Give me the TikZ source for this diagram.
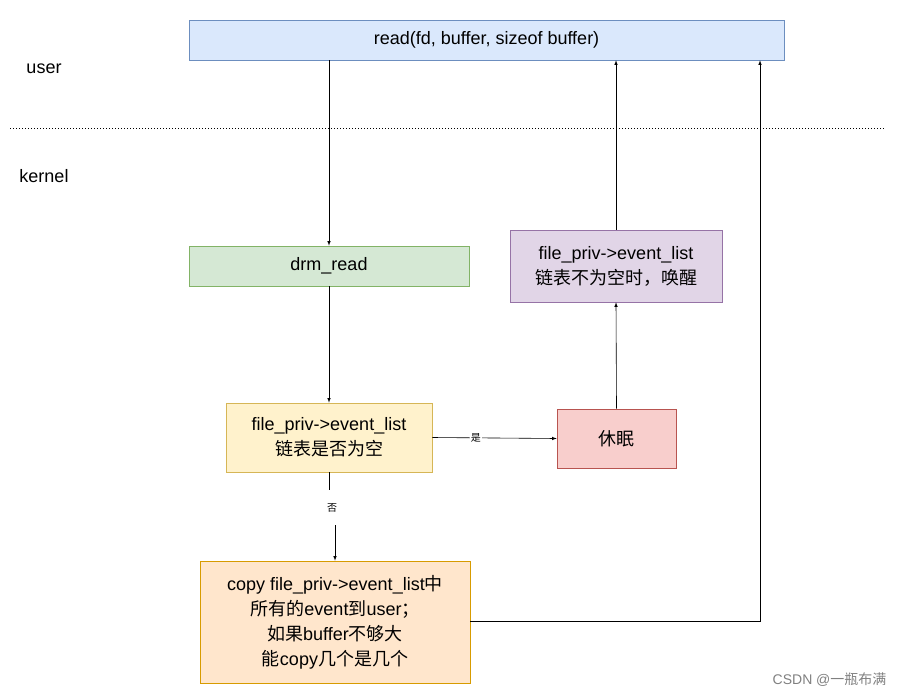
\documentclass[tikz,border=0pt]{standalone}
\usepackage{fontspec}
\setmainfont{Liberation Sans}
\newfontfamily\cjk{Noto Sans CJK SC}
\begin{document}
\begin{tikzpicture}[x=1pt,y=-1pt,
  box/.style={draw=#1,line width=0.6pt,inner sep=0pt,align=center,font=\fontsize{18}{25}\selectfont},
  lab/.style={font=\fontsize{18}{22}\selectfont},
  arr/.style={-latex,line width=0.6pt}]
\useasboundingbox (0,0) rectangle (904,698);
\definecolor{bF}{HTML}{DAE8FC}\definecolor{bD}{HTML}{6C8EBF}
\definecolor{gF}{HTML}{D5E8D4}\definecolor{gD}{HTML}{82B366}
\definecolor{pF}{HTML}{E1D5E7}\definecolor{pD}{HTML}{9673A6}
\definecolor{yF}{HTML}{FFF2CC}\definecolor{yD}{HTML}{D6B656}
\definecolor{rF}{HTML}{F8CECC}\definecolor{rD}{HTML}{B85450}
\definecolor{oF}{HTML}{FFE6CC}\definecolor{oD}{HTML}{D79B00}
\node[box=bD,fill=bF,minimum width=595,minimum height=40] (read) at (486.5,40) {read(fd, buffer, sizeof buffer)};
\node[lab] (user) at (44,69) {user};
\node[lab] (kernel) at (44,176) {kernel};
\draw[dotted,line width=1pt] (10,128) -- (885,128);
\node[box=gD,fill=gF,minimum width=280,minimum height=40] (drm) at (329,266) {drm\_read};
\node[box=pD,fill=pF,minimum width=212,minimum height=72] (wake) at (616,266) {file\_priv->event\_list\\{\cjk 链表不为空时，唤醒}};
\node[box=yD,fill=yF,minimum width=206,minimum height=69] (chk) at (329,437.5) {file\_priv->event\_list\\{\cjk 链表是否为空}};
\node[box=rD,fill=rF,minimum width=119,minimum height=59] (sleep) at (616.5,438.5) {\cjk 休眠};
\node[box=oD,fill=oF,minimum width=270,minimum height=122] (copy) at (335,622) {copy file\_priv->event\_list{\cjk 中}\\{\cjk 所有的}event{\cjk 到}user{\cjk ；}\\{\cjk 如果}buffer{\cjk 不够大}\\{\cjk 能}copy{\cjk 几个是几个}};
\coordinate (c1) at (760,621);
\draw[arr] (read.south -| drm) -- (drm.north);
\draw[arr] (drm) -- (chk.north);
\draw[arr] (chk.east) -- node[pos=0.35,fill=white,inner sep=1pt,lab,font=\cjk]{是} (sleep.west);
\draw[line width=0.6pt] (chk.south) -- (329,490);
\draw[arr] (335,525) -- (copy.north);
\node[lab,font=\cjk] (no) at (332,508) {否};
\draw[arr] (sleep.north) -- (wake.south);
\draw[arr] (wake.north) -- (read.south -| wake);
\draw[arr] (copy.east |- c1) -- (c1) -- (read.south -| c1);
\node[text=gray,font=\fontsize{14}{16}\selectfont,anchor=east] (wm) at (890,680) {CSDN @{\cjk 一瓶布满}};
\end{tikzpicture}
\end{document}
